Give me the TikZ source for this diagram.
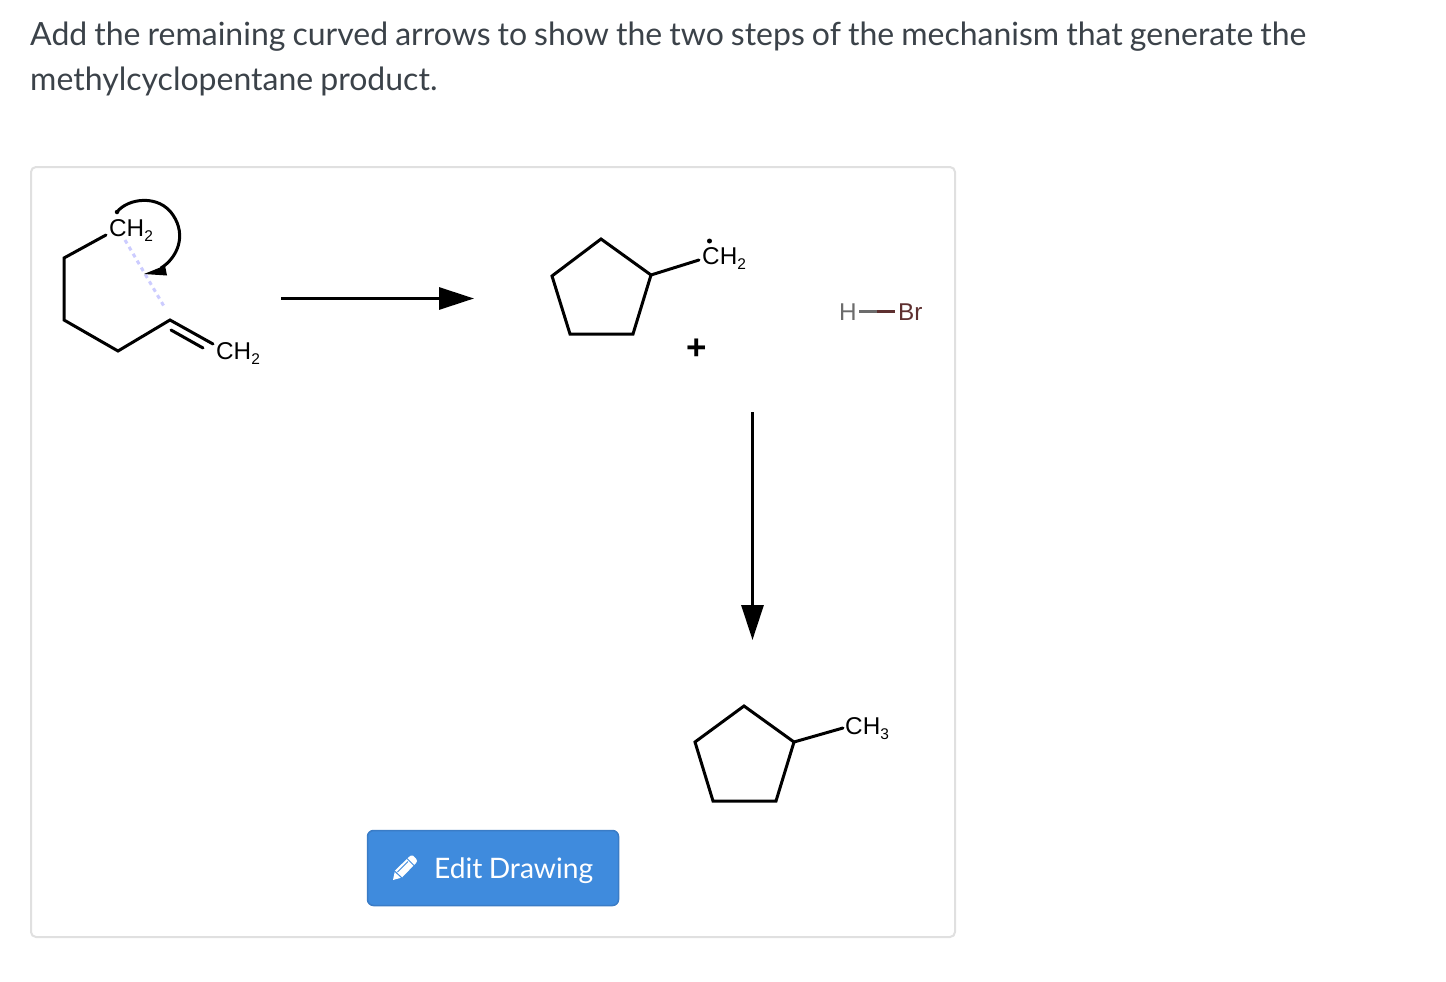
\documentclass[tikz,border=0pt]{standalone}
\usepackage{fontspec}
\setmainfont[WordSpace=0.86]{Lato}
\newfontfamily\chemfont{Liberation Sans}
\usetikzlibrary{arrows.meta}
\definecolor{txt}{HTML}{3B4249}
\definecolor{frame}{HTML}{E0E0E0}
\definecolor{btn}{HTML}{3F8BDD}
\definecolor{btnedge}{HTML}{3A7CC6}
\definecolor{brcol}{HTML}{5E3030}
\newcommand{\chemlabel}[2]{{\chemfont\fontsize{24.3}{26}\selectfont #1\raisebox{-5pt}{\fontsize{15.5}{16}\selectfont #2}}}
\tikzset{
  bond/.style={line width=3pt,black,line join=miter,line cap=round},
  reaction/.style={line width=3pt,black,-{Triangle[length=35pt,width=22pt]}},
  chem/.style={inner sep=0pt,anchor=west,text=black},
  prompt/.style={inner sep=0pt,anchor=west,text=txt,font=\fontsize{32}{36}\selectfont},
  pale/.style={line width=3pt,color=blue!20,dash pattern=on 4pt off 4pt},
  dotmark/.style={circle,fill=black,inner sep=0pt,minimum size=5pt}
}
\begin{document}
\begin{tikzpicture}[x=1pt,y=-1pt]
\useasboundingbox (0,0) rectangle (1446,982);
\fill[white] (0,0) rectangle (1446,982);
\node[prompt] (line1) at (30,37) {Add the remaining curved arrows to show the two steps of the mechanism that generate the};
\node[prompt] (line2) at (30,81) {methylcyclopentane product.};
\draw[frame,line width=2pt,rounded corners=5pt,fill=white] (31,167) rectangle (955,937);

% first molecule
\coordinate (a1) at (106,235);
\coordinate (a2) at (64,258);
\coordinate (a3) at (64,320);
\coordinate (a4) at (118,351);
\coordinate (a5) at (170,320);
\coordinate (a6) at (213,344);
\coordinate (a7) at (171,330);
\coordinate (a8) at (203,348);
\coordinate (p1) at (125,240);
\coordinate (p2) at (165,308);
\draw[pale] (p1) -- (p2);
\draw[bond] (a1) -- (a2) -- (a3) -- (a4) -- (a5) -- (a6);
\draw[bond] (a7) -- (a8);
\node[chem] (ch2a) at (109,231) {\chemlabel{CH}{2}};
\node[chem] (ch2b) at (216,353.5) {\chemlabel{CH}{2}};
% fishhook arrow
\coordinate (f1) at (117,212);
\coordinate (f2) at (161,268);
\draw[line width=3pt,line cap=round] (f1) .. controls (128,198) and (159,194) .. (173,215) .. controls (187,236) and (177,258) .. (f2);
\node[dotmark,minimum size=4.5pt] (fdot) at (f1) {};
\coordinate (h1) at (144,274);
\coordinate (h2) at (165,265.5);
\coordinate (h3) at (167,275.5);
\fill (h1) -- (h2) -- (h3) -- cycle;

% arrow 1
\coordinate (r1) at (281,298.5);
\coordinate (r2) at (474,298.5);
\draw[reaction] (r1) -- (r2);

% second molecule
\coordinate (b1) at (601,239);
\coordinate (b2) at (651,275);
\coordinate (b3) at (633,334);
\coordinate (b4) at (570,334);
\coordinate (b5) at (552,276);
\coordinate (b6) at (699,260);
\draw[bond] (b1) -- (b2) -- (b3) -- (b4) -- (b5) -- cycle;
\draw[bond] (b2) -- (b6);
\node[chem] (ch2c) at (702,259) {\chemlabel{CH}{2}};
\node[dotmark] (rad) at (709.5,241) {};
\node[inner sep=0pt,text=black,font=\bfseries\fontsize{35}{36}\selectfont\chemfont] (plus) at (696.5,349) {+};

% HBr
\node[chem,text=gray!85!black] (h) at (839,312.5) {{\chemfont\fontsize{24.3}{26}\selectfont H}};
\node[chem,text=brcol] (br) at (898,312.5) {{\chemfont\fontsize{24.3}{26}\selectfont Br}};
\coordinate (hb1) at (859,311.5);
\coordinate (hbm) at (877,311.5);
\coordinate (hb2) at (895,311.5);
\draw[line width=2.4pt,gray!85!black] (hb1) -- (hbm);
\draw[line width=2.4pt,brcol] (hbm) -- (hb2);

% arrow 2
\coordinate (r3) at (752.5,412);
\coordinate (r4) at (752.5,640);
\draw[reaction] (r3) -- (r4);

% product
\coordinate (c1) at (744,706);
\coordinate (c2) at (794,742);
\coordinate (c3) at (776,801);
\coordinate (c4) at (713,801);
\coordinate (c5) at (695,742);
\coordinate (c6) at (843,728);
\draw[bond] (c1) -- (c2) -- (c3) -- (c4) -- (c5) -- cycle;
\draw[bond] (c2) -- (c6);
\node[chem] (ch3) at (845,729) {\chemlabel{CH}{3}};

% button
\draw[btnedge,fill=btn,line width=1.5pt,rounded corners=6pt] (367.5,830.5) rectangle (618.5,905.5);
\node[inner sep=0pt,anchor=west,text=white,font=\fontsize{28.2}{32}\selectfont] (edit) at (434,870.5) {Edit Drawing};
% pencil icon
\fill[white] (393,880) -- (395,870.5) -- (409.5,856.5) -- (411,855.5) -- (413,855.5) -- (416,858.5) -- (417,861) -- (416,863) -- (402,877.5) -- cycle;
\draw[btn,line width=1pt] (394.5,871) -- (402,878);
\draw[btn,line width=1pt] (407,858.5) -- (414.5,866);
\draw[btn,line width=0.8pt] (397.5,872) -- (408,861.5);
\end{tikzpicture}
\end{document}
